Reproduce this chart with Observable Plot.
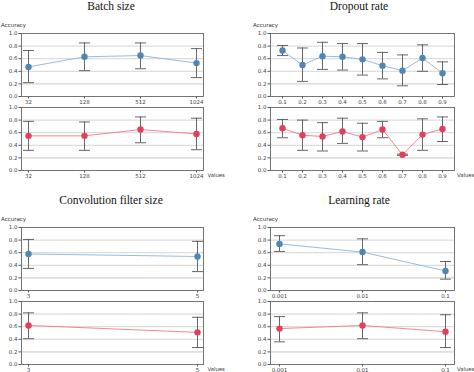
<!DOCTYPE html>
<html><head><meta charset="utf-8">
<script src="https://cdn.jsdelivr.net/npm/d3@7"></script>
<script src="https://cdn.jsdelivr.net/npm/@observablehq/plot@0.6"></script>
<style>
body{margin:0;background:#fff;}
#wrap{position:relative;width:474px;height:372px;overflow:hidden;}
#wrap svg{position:absolute;overflow:visible;background:transparent;}
.title{position:absolute;font-family:"Liberation Serif","DejaVu Serif",serif;font-size:11.5px;line-height:13px;color:#111;transform:translateX(-50%);white-space:nowrap;}
.ylab{position:absolute;font-family:"DejaVu Sans",sans-serif;font-size:5.5px;line-height:7px;color:#333;}
</style></head>
<body><div id="wrap"></div>
<script>
// ---- data ----
const batchCats = ["32","128","512","1024"];
const batchTopMean = [0.47,0.63,0.65,0.53];
const batchTopLo   = [0.22,0.41,0.44,0.30];
const batchTopHi   = [0.73,0.85,0.85,0.76];
const batchBotMean = [0.55,0.55,0.65,0.58];
const batchBotLo   = [0.32,0.32,0.44,0.33];
const batchBotHi   = [0.78,0.77,0.85,0.83];

const dropCats = ["0.1","0.2","0.3","0.4","0.5","0.6","0.7","0.8","0.9"];
const dropTopMean = [0.73,0.50,0.64,0.63,0.59,0.49,0.41,0.61,0.37];
const dropTopLo   = [0.65,0.24,0.43,0.42,0.34,0.28,0.17,0.40,0.19];
const dropTopHi   = [0.81,0.77,0.86,0.84,0.84,0.70,0.66,0.82,0.55];
const dropBotMean = [0.67,0.56,0.54,0.62,0.53,0.65,0.25,0.57,0.66];
const dropBotLo   = [0.52,0.32,0.31,0.43,0.31,0.52,0.24,0.32,0.46];
const dropBotHi   = [0.81,0.80,0.76,0.83,0.75,0.78,0.26,0.82,0.85];

const convCats = ["3","5"];
const convTopMean = [0.58,0.54];
const convTopLo   = [0.35,0.30];
const convTopHi   = [0.81,0.78];
const convBotMean = [0.62,0.51];
const convBotLo   = [0.41,0.27];
const convBotHi   = [0.82,0.75];

const lrCats = ["0.001","0.01","0.1"];
const lrTopMean = [0.74,0.61,0.31];
const lrTopLo   = [0.62,0.41,0.18];
const lrTopHi   = [0.87,0.82,0.46];
const lrBotMean = [0.57,0.62,0.52];
const lrBotLo   = [0.36,0.41,0.27];
const lrBotHi   = [0.76,0.82,0.79];

const yTicks = [0,0.2,0.4,0.6,0.8,1.0];
const titles = ["Batch size","Dropout rate","Convolution filter size","Learning rate"];

// ---- drawing ----
const wrap = document.getElementById("wrap");
const capSymbol = {draw(ctx){ ctx.moveTo(-5.5,0); ctx.lineTo(5.5,0); }};
const fmt = d3.format(".1f");

function rows(cats, mean, lo, hi){
  return cats.map((c,i)=>({c, m:mean[i], lo:lo[i], hi:hi[i]}));
}

function panel(data, cats, color, lineColor, col, fy0, fy1, fx0, fx1, inset, showValues){
  const colLeft = col*237;
  const mt = 8, mb = 14;
  const h = (fy1-fy0) + mt + mb;
  const marks = [
    Plot.ruleY([0.2], {stroke:"#e0e0e0", strokeWidth:1.8}),
    Plot.ruleY([0.4,0.6,0.8], {stroke:"#c9c9c9", strokeWidth:0.8}),
    Plot.axisY({ticks:yTicks, tickFormat:fmt, tickSize:2.5, tickPadding:1.5, fontSize:5.5, stroke:"#555", color:"#444", label:null}),
    Plot.axisX({tickSize:2.5, tickPadding:1.5, fontSize:5.5, stroke:"#555", color:"#444", label:null}),
    Plot.line(data, {x:"c", y:"m", stroke:lineColor, strokeWidth:0.9}),
    Plot.ruleX(data, {x:"c", y1:"lo", y2:"hi", stroke:"#555", strokeWidth:0.9}),
    Plot.dot(data, {x:"c", y:"lo", symbol:capSymbol, stroke:"#555", strokeWidth:0.9, r:4}),
    Plot.dot(data, {x:"c", y:"hi", symbol:capSymbol, stroke:"#555", strokeWidth:0.9, r:4}),
    Plot.dot(data, {x:"c", y:"m", fill:color, r:3.2}),
    Plot.frame({stroke:"#666", strokeWidth:0.9})
  ];
  if (showValues) marks.push(Plot.text(["Values"], {frameAnchor:"bottom-right", dx:col ? 2.5 : 4, dy:6.5, textAnchor:"start", fontSize:5.3, fill:"#333"}));
  const svg = Plot.plot({
    width:237, height:h,
    marginLeft: fx0-colLeft, marginRight: colLeft+237-fx1, marginTop: mt, marginBottom: mb,
    style:{fontFamily:"DejaVu Sans, sans-serif", background:"transparent", overflow:"visible"},
    x:{type:"point", domain:cats, padding:0, inset:inset},
    y:{domain:[0,1]},
    marks
  });
  svg.style.left = colLeft+"px";
  svg.style.top = (fy0-mt)+"px";
  wrap.appendChild(svg);
}

const blue = "#4f86b6", blueLine = "#8ab6d8";
const red = "#e2405a", redLine = "#f27a86";

const sets = [
  {cats:batchCats, top:rows(batchCats,batchTopMean,batchTopLo,batchTopHi), bot:rows(batchCats,batchBotMean,batchBotLo,batchBotHi), col:0, row:0, fx0:21, fx1:203, inset:6},
  {cats:dropCats, top:rows(dropCats,dropTopMean,dropTopLo,dropTopHi), bot:rows(dropCats,dropBotMean,dropBotLo,dropBotHi), col:1, row:0, fx0:270, fx1:454, inset:8.5},
  {cats:convCats, top:rows(convCats,convTopMean,convTopLo,convTopHi), bot:rows(convCats,convBotMean,convBotLo,convBotHi), col:0, row:1, fx0:21, fx1:203, inset:6.5},
  {cats:lrCats, top:rows(lrCats,lrTopMean,lrTopLo,lrTopHi), bot:rows(lrCats,lrBotMean,lrBotLo,lrBotHi), col:1, row:1, fx0:270, fx1:454, inset:8.5}
];

sets.forEach((s,k)=>{
  const off = s.row*194;
  panel(s.top, s.cats, blue, blueLine, s.col, 33+off, 96+off, s.fx0, s.fx1, s.inset, false);
  panel(s.bot, s.cats, red, redLine, s.col, 107+off, 170+off, s.fx0, s.fx1, s.inset, true);
  const t = document.createElement("div");
  t.className = "title";
  t.textContent = titles[k];
  t.style.left = ((s.fx0+s.fx1)/2 + (s.col? -3 : -1))+"px";
  t.style.top = (0+off)+"px";
  wrap.appendChild(t);
  const a = document.createElement("div");
  a.className = "ylab";
  a.textContent = "Accuracy";
  a.style.left = (s.col? 253 : 1)+"px";
  a.style.top = (22+off)+"px";
  wrap.appendChild(a);
});
</script></body></html>
